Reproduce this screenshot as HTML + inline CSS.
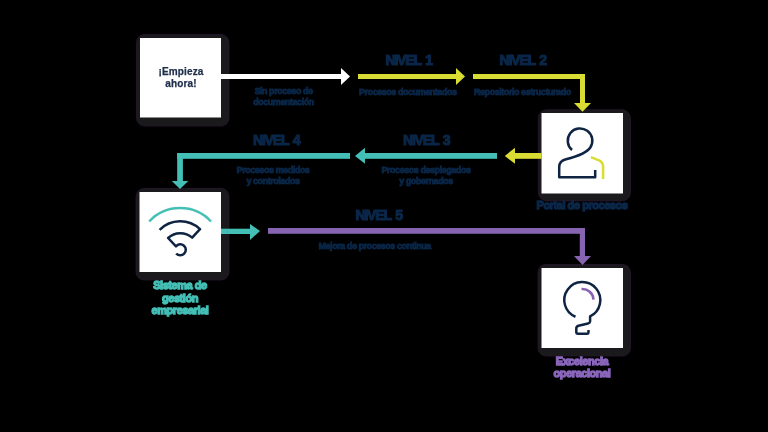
<!DOCTYPE html>
<html><head><meta charset="utf-8">
<style>
html,body{margin:0;padding:0;width:768px;height:432px;overflow:hidden;background:#000;}
body{position:relative;font-family:"Liberation Sans",sans-serif;font-weight:bold;}
.t{position:absolute;white-space:nowrap;line-height:1;-webkit-text-stroke:0.45px currentColor;}
.nv{color:#0a2749;}
.lv{font-size:14px;letter-spacing:-1.2px;word-spacing:2px;-webkit-text-stroke:1.1px currentColor;filter:blur(0.45px);}
.sm{font-size:9px;letter-spacing:-0.45px;text-align:center;-webkit-text-stroke:0.8px currentColor;filter:blur(0.45px);}
svg{position:absolute;left:0;top:0;}
</style></head><body>
<svg width="768" height="432" viewBox="0 0 768 432">
  <!-- boxes -->
  <g fill="#1a191b" stroke="#2a1630" stroke-width="0.8">
    <rect x="136.5" y="34.5" width="92.5" height="91.5" rx="8"/>
    <rect x="538.3" y="109.7" width="92.2" height="91.2" rx="8.5"/>
    <rect x="136" y="188.5" width="93" height="91.5" rx="8"/>
    <rect x="538" y="264.5" width="92.5" height="91.5" rx="8"/>
  </g>
  <g fill="#fff">
    <rect x="140" y="38" width="81" height="79.5"/>
    <rect x="541.5" y="113" width="81.5" height="80.5"/>
    <rect x="139.5" y="192" width="81.5" height="80"/>
    <rect x="541.5" y="268" width="81.5" height="80"/>
  </g>
  <!-- white arrow -->
  <rect x="221" y="74" width="121" height="5" fill="#fff"/>
  <polygon points="341,68 350,76.5 341,85" fill="#fff"/>
  <!-- yellow -->
  <g fill="#d9dc33">
    <rect x="358" y="74" width="99" height="5"/>
    <polygon points="456,68 465,76.5 456,85"/>
    <rect x="473" y="74" width="112" height="5"/>
    <rect x="580" y="74" width="5" height="30"/>
    <polygon points="574,103 591,103 582.5,111.7"/>
    <rect x="514" y="153" width="27.5" height="5.8"/>
    <polygon points="515,147.8 504.8,155.9 515,163.8"/>
  </g>
  <!-- teal -->
  <g fill="#44bfb6">
    <rect x="364" y="153" width="133" height="5.8"/>
    <polygon points="365,147.8 355,155.9 365,163.8"/>
    <rect x="177.2" y="153" width="172.8" height="5.8"/>
    <rect x="177.2" y="153" width="5.7" height="29"/>
    <polygon points="171.8,181 188.3,181 180,189"/>
    <rect x="221" y="228.7" width="30" height="5.3"/>
    <polygon points="250,224 260,231 250,240"/>
  </g>
  <!-- purple -->
  <g fill="#8764b1">
    <rect x="268" y="228" width="317" height="5.8"/>
    <rect x="579.8" y="228" width="5.2" height="29"/>
    <polygon points="574,256 591,256 582.5,265"/>
  </g>
  <!-- person icon -->
  <g fill="none" stroke-width="2.5" stroke-linecap="butt" stroke-linejoin="round">
    <path d="M572,150 A12.3,12.3 0 1,1 590.3,147.5 C586,154 575,157 566,159.3 Q559.2,161 559.2,167 L559.2,177.3 L595.2,177.3 L595.2,170" stroke="#0f2442"/>
    <path d="M590.9,157.2 L599.5,160.6 Q603.1,162.5 603.1,167 L603.1,179" stroke="#d9dc33"/>
  </g>
  <!-- wifi icon -->
  <g fill="none" stroke-width="2.5" stroke-linejoin="round">
    <path d="M149.2,221.5 A42.3,42.3 0 0,1 211,221.5" stroke="#44bfb6"/>
    <path d="M159.6,229.9 A29,29 0 0,1 200,229.2 L192.2,237.6 A18,18 0 0,0 168.1,238 L176,246.4 A5.5,5.5 0 1,1 176.2,253.5" stroke="#0f2442"/>
  </g>
  <!-- bulb icon -->
  <g fill="none" stroke-width="2.5" stroke-linejoin="round">
    <path d="M575.5,316.75 A18,18 0 1,1 590.1,316.3 L590.1,321.5 Q590,323 588,323.5 L578.5,325.8 Q576.3,326.5 576.3,328.5 L576.3,332 Q576.3,333.8 578,333.8 L587,333.8 Q588.5,333.8 588.5,332 L588.5,330" stroke="#0f2442"/>
    <path d="M581.5,289 A11.2,11.2 0 0,1 593.5,299.6" stroke="#8764b1"/>
  </g>
</svg>
<div class="t" style="left:140.5px;top:65.5px;width:81px;text-align:center;font-size:10px;letter-spacing:0.15px;line-height:12.5px;color:#1e2d4a;-webkit-text-stroke:0.25px currentColor;filter:blur(0.3px);">¡Empieza<br>ahora!</div>

<div class="t nv lv" style="left:385.5px;top:53px;">NIVEL 1</div>
<div class="t nv lv" style="left:499.5px;top:53px;">NIVEL 2</div>
<div class="t nv lv" style="left:403px;top:133px;">NIVEL 3</div>
<div class="t nv lv" style="left:253px;top:133px;">NIVEL 4</div>
<div class="t nv lv" style="left:355.5px;top:208px;">NIVEL 5</div>

<div class="t nv sm" style="left:243.5px;top:86px;width:80px;line-height:10.5px;">Sin proceso de<br>documentación</div>
<div class="t nv sm" style="left:359px;top:87.5px;">Procesos documentados</div>
<div class="t nv sm" style="left:474px;top:87.5px;">Repositorio estructurado</div>
<div class="t nv sm" style="left:233px;top:165px;width:80px;line-height:11px;">Procesos medidos<br>y controlados</div>
<div class="t nv sm" style="left:376px;top:165px;width:100px;line-height:11px;">Procesos desplegados<br>y gobernados</div>
<div class="t nv sm" style="left:318.5px;top:242px;">Mejora de procesos continua</div>

<div class="t" style="left:526px;top:200px;width:112px;text-align:center;font-size:11px;color:#0a2749;letter-spacing:-0.45px;-webkit-text-stroke:1.3px currentColor;filter:blur(0.5px);">Portal de procesos</div>
<div class="t" style="left:130px;top:279px;width:100px;text-align:center;font-size:11px;line-height:12.5px;color:#44bfb6;letter-spacing:-0.45px;-webkit-text-stroke:1.3px currentColor;filter:blur(0.5px);">Sistema de<br>gestión<br>empresarial</div>
<div class="t" style="left:532px;top:355px;width:100px;text-align:center;font-size:11px;line-height:12px;color:#8966bb;letter-spacing:-0.45px;-webkit-text-stroke:1.3px currentColor;filter:blur(0.5px);">Excelencia<br>operacional</div>
</body></html>
